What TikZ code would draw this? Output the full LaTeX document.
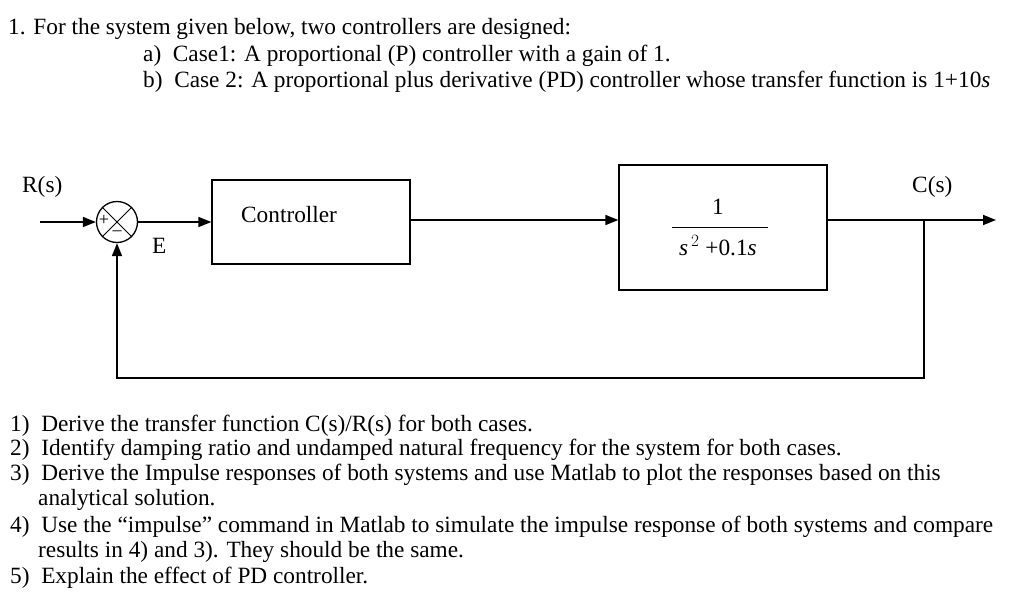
\documentclass[tikz,border=0pt]{standalone}
\usepackage{fontspec}
\setmainfont{Liberation Serif}
\usetikzlibrary{arrows.meta}
\begin{document}
\begin{tikzpicture}[x=1pt,y=-1pt,
  txt/.style={anchor=west,inner sep=0,font=\fontsize{23.3}{25}\selectfont},
  blk/.style={draw,line width=1.3pt},
  ln/.style={line width=1.6pt},
  arr/.style={ln,-{Triangle[length=13pt,width=10pt]}}]
\useasboundingbox (0,0) rectangle (1024,594);
\node[txt] (t1) at (8,29) {1. For the system given below, two controllers are designed:};
\node[txt] (ta) at (143,56) {a)\ \ Case1: A proportional (P) controller with a gain of 1.};
\node[txt] (tb) at (143,82) {b)\ \ Case 2: A proportional plus derivative (PD) controller whose transfer function is 1+10\textit{s}};
\node[blk,minimum width=198pt,minimum height=84pt] (ctl) at (311,222) {};
\node[txt] (ctltxt) at (241,215) {Controller};
\node[blk,minimum width=208pt,minimum height=125pt] (pl) at (723,227.5) {};
\node[txt,anchor=center] (num) at (718,207) {1};
\draw[line width=1pt] (672,227) coordinate (fa) -- (768,227) coordinate (fb);
\node[txt,anchor=center] (den) at (718,246) {\textit{s}$^{\,2}$ +0.1\textit{s}};
\node[draw,circle,line width=1.3pt,minimum size=41pt,inner sep=0] (sum) at (117,222) {};
\draw[line width=1pt] (sum.45) -- (sum.225) (sum.135) -- (sum.315);
\node[inner sep=0,font=\fontsize{18}{18}\selectfont] (plus) at (104,220) {+};
\node[inner sep=0,font=\fontsize{18}{18}\selectfont] (minus) at (117,233) {\textendash};
\node[txt] (R) at (22,187) {R(s)};
\node[txt] (C) at (912,187) {C(s)};
\node[txt] (E) at (152,246) {E};
\coordinate (rin) at (40,222);
\coordinate (cout) at (996,220);
\coordinate (br) at (924,220);
\coordinate (fb1) at (924,378);
\coordinate (fb2) at (117,378);
\draw[arr] (rin) -- (sum.west);
\draw[arr] (sum.east) -- (ctl.west);
\draw[arr] (ctl.east |- 0,220) -- (pl.west |- 0,220);
\draw[arr] (pl.east |- 0,220) -- (cout);
\draw[arr] (br) -- (fb1) -- (fb2) -- (sum.south);
\node[txt] (q1) at (10,426) {1)\ \ Derive the transfer function C(s)/R(s) for both cases.};
\node[txt] (q2) at (10,450) {2)\ \ Identify damping ratio and undamped natural frequency for the system for both cases.};
\node[txt] (q3) at (10,475) {3)\ \ Derive the Impulse responses of both systems and use Matlab to plot the responses based on this};
\node[txt] (q3b) at (38,500) {analytical solution.};
\node[txt] (q4) at (10,527) {4)\ \ Use the “impulse” command in Matlab to simulate the impulse response of both systems and compare};
\node[txt] (q4b) at (38,552) {results in 4) and 3). They should be the same.};
\node[txt] (q5) at (10,578) {5)\ \ Explain the effect of PD controller.};
\end{tikzpicture}
\end{document}
